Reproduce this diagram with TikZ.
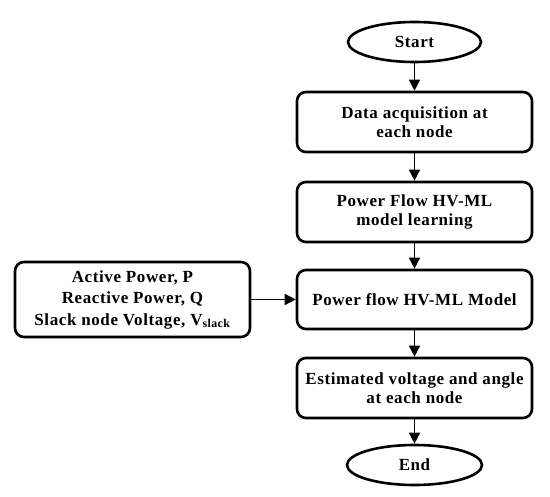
\documentclass[tikz,border=0pt]{standalone}
\usepackage{fontspec}
\setmainfont[LetterSpace=3.5]{Liberation Serif}
\usetikzlibrary{shapes.geometric,arrows.meta}
\begin{document}
\begin{tikzpicture}[x=1pt,y=1pt,
  every node/.style={font=\fontsize{17}{19.5}\selectfont\bfseries, align=center, inner sep=0pt},
  procbox/.style={draw, line width=2.6pt, rounded corners=9pt, minimum width=235pt, minimum height=60pt},
  termbox/.style={draw, ellipse, line width=2.6pt, minimum width=133pt, minimum height=40pt},
  flow/.style={line width=1.5pt, -{Triangle[length=11pt,width=11pt]}}
]
\useasboundingbox (0,0) rectangle (550,-497);
\node[termbox] (start) at (414.5,-42) {Start};
\node[procbox] (acq) at (414.5,-122) {Data acquisition at\\each node};
\node[procbox] (learn) at (414.5,-212) {Power Flow HV-ML\\model learning};
\node[procbox, minimum height=59pt] (model) at (414.5,-299.5) {Power flow HV-ML Model};
\node[procbox, minimum height=75pt, font=\fontsize{17}{21.5}\selectfont\bfseries] (inputs) at (132.5,-299.5) {Active Power, P\\Reactive Power, Q\\Slack node Voltage, V\textsubscript{slack}};
\node[procbox] (est) at (414.5,-388) {Estimated voltage and angle\\at each node};
\node[termbox, minimum width=135pt] (end) at (414.5,-465) {End};
\draw[flow] (start) -- (acq);
\draw[flow] (acq) -- (learn);
\draw[flow] (learn) -- (model);
\draw[flow] (inputs) -- (model);
\draw[flow] (model) -- (est);
\draw[flow] (est) -- (end);
\end{tikzpicture}
\end{document}
